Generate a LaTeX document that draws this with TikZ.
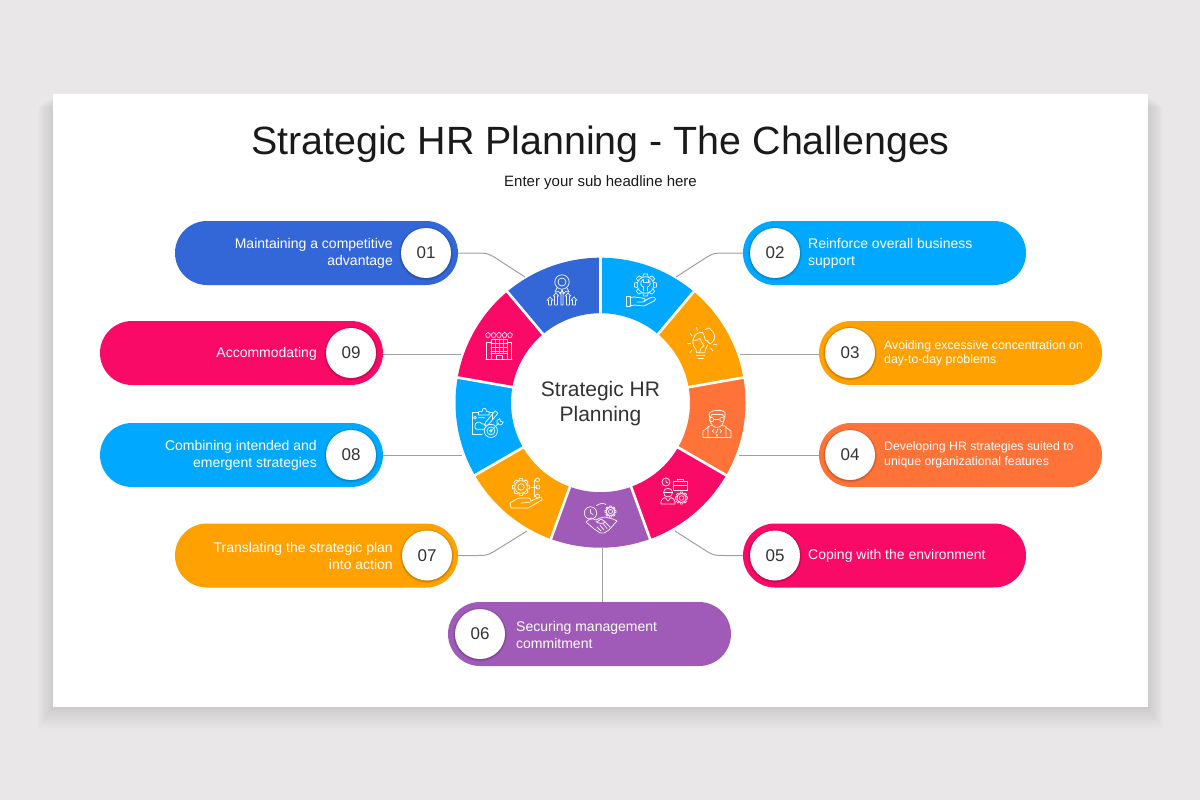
\documentclass[tikz,border=0pt]{standalone}
\usepackage{fontspec}
\setmainfont{Liberation Sans}
\usetikzlibrary{shapes.misc,calc}
\definecolor{bgc}{HTML}{E9E7E8}
\definecolor{cblue}{HTML}{3366D6}
\definecolor{csky}{HTML}{00A8FF}
\definecolor{camber}{HTML}{FFA100}
\definecolor{corange}{HTML}{FF7338}
\definecolor{cpink}{HTML}{F90A66}
\definecolor{cpurple}{HTML}{A05AB8}
\definecolor{ink}{HTML}{1A1A1A}
\definecolor{ink2}{HTML}{333333}
\definecolor{wire}{HTML}{A0A0A0}
\tikzset{
  pill/.style={rounded rectangle,minimum width=283pt,minimum height=64pt,inner sep=0pt,fill=#1,draw=none},
  numdisc/.style={circle,minimum size=50pt,inner sep=0pt,fill=white,text=ink2,font=\fontsize{17}{20}\selectfont},
  ptext/.style={text=white,inner sep=0pt,font=\fontsize{14}{17}\selectfont},
  ptextsmall/.style={text=white,inner sep=0pt,font=\fontsize{12.3}{14.6}\selectfont},
  wirel/.style={draw=wire,line width=1pt},
  icon/.style={draw=white,draw opacity=.92,line width=.75pt,line cap=round,line join=round},
  gapl/.style={white,line width=2.6pt},
}
\newcommand{\ringseg}[3]{%
  \fill[#3] (600.5,402.7) ++(#1:145) arc (#1:#2:145) -- ($(600.5,402.7)+(#2:89.5)$) arc (#2:#1:89.5) -- cycle;
}
\newcommand{\gapline}[1]{\draw[gapl] ($(600.5,402.7)+(#1:86)$) -- ($(600.5,402.7)+(#1:149)$);}
\newcommand{\discshadow}[2]{%
  \foreach \k in {1,...,4}{\fill[black,opacity=.05] (#1,#2+.6) circle ({25+\k*.5});}
}
\newcommand{\gearbare}[3]{%
  \begin{scope}[shift={(#1,#2)}]
    \draw[icon] (0,0) circle ({.75*#3});
    \foreach \a in {0,45,...,315}{\draw[icon,rotate=\a] ({-.24*#3},{-.75*#3}) -- ({-.17*#3},{-1*#3}) -- ({.17*#3},{-1*#3}) -- ({.24*#3},{-.75*#3});}
  \end{scope}}
\newcommand{\geargl}[3]{\gearbare{#1}{#2}{#3}\draw[icon] (#1,#2) circle ({.38*#3});}
\newcommand{\uparr}[4]{% x, top, bottom, halfwidth
  \draw[icon] ({#1-#4*.5},#3) -- ({#1-#4*.5},{#2+#4*1.1}) -- ({#1-#4},{#2+#4*1.1}) -- (#1,#2) -- ({#1+#4},{#2+#4*1.1}) -- ({#1+#4*.5},{#2+#4*1.1}) -- ({#1+#4*.5},#3) -- cycle;}
\begin{document}
\begin{tikzpicture}[x=1pt,y=-1pt]
\useasboundingbox (0,0) rectangle (1200,800);
\fill[bgc] (0,0) rectangle (1200,800);
% card shadow
\foreach \k in {1,...,14}{\fill[black,opacity=.006] ({53-\k*1.1},{96+\k*.8}) rectangle ({1148+\k*1.1},{707+\k*1.6});}
\node[fill=white,minimum width=1095pt,minimum height=613pt,inner sep=0pt,anchor=north west] (card) at (53,94) {};
% titles
\node[text=ink,inner sep=0pt,font=\fontsize{39.4}{46}\selectfont] (title) at (600.5,144) {Strategic HR Planning - The Challenges};
\node[text=ink,inner sep=0pt,font=\fontsize{15}{18}\selectfont] (sub) at (600.5,183) {Enter your sub headline here};
% ring
\ringseg{-90}{-50}{csky}
\ringseg{-50}{-10}{camber}
\ringseg{-10}{30}{corange}
\ringseg{30}{70}{cpink}
\ringseg{70}{110}{cpurple}
\ringseg{110}{150}{camber}
\ringseg{150}{190}{csky}
\ringseg{190}{230}{cpink}
\ringseg{230}{270}{cblue}
\gapline{-90}\gapline{-50}\gapline{-10}\gapline{30}\gapline{70}\gapline{110}\gapline{150}\gapline{190}\gapline{230}
\node[text=ink2,inner sep=0pt,align=center,font=\fontsize{21}{25}\selectfont] (hub) at (600.5,404) {Strategic HR\\Planning};
% ring anchors
\coordinate (r1) at (525,277);
\coordinate (r2) at (676,277);
\coordinate (r3) at (740,354);
\coordinate (r4) at (739,455);
\coordinate (r5) at (675,531);
\coordinate (r6) at (602,548);
\coordinate (r7) at (527,531);
\coordinate (r8) at (462,455);
\coordinate (r9) at (461,354);
% pills
\node[pill=cblue] (p1) at (316.5,253) {};
\node[pill=csky] (p2) at (884.5,253) {};
\node[pill=camber] (p3) at (960.5,353) {};
\node[pill=corange] (p4) at (960.5,455) {};
\node[pill=cpink] (p5) at (884.5,555.5) {};
\node[pill=cpurple] (p6) at (589.5,634) {};
\node[pill=camber] (p7) at (316.5,555.5) {};
\node[pill=csky] (p8) at (241.5,455) {};
\node[pill=cpink] (p9) at (241.5,353) {};
% connectors
\draw[wirel] (p1.east) -- (477,253) .. controls (484,253) and (488,253) .. (494,257) -- (r1);
\draw[wirel] (p2.west) -- (724,253) .. controls (717,253) and (713,253) .. (707,257) -- (r2);
\draw[wirel] (p3.west |- r3) -- (r3);
\draw[wirel] (p4.west) -- (r4);
\draw[wirel] (p5.west) -- (724,555.5) .. controls (717,555.5) and (713,555.5) .. (707,551.5) -- (r5);
\draw[wirel] (p6.north -| r6) -- (r6);
\draw[wirel] (p7.east) -- (477,555.5) .. controls (484,555.5) and (488,555.5) .. (494,551.5) -- (r7);
\draw[wirel] (p8.east) -- (r8);
\draw[wirel] (p9.east |- r9) -- (r9);
% discs
\discshadow{426}{253}\discshadow{775}{253}\discshadow{850}{353}\discshadow{850}{455}\discshadow{775}{555.5}\discshadow{480}{634}\discshadow{427}{555.5}\discshadow{351}{455}\discshadow{351}{353}
\node[numdisc] (n1) at (426,253) {01};
\node[numdisc] (n2) at (775,253) {02};
\node[numdisc] (n3) at (850,353) {03};
\node[numdisc] (n4) at (850,455) {04};
\node[numdisc] (n5) at (775,555.5) {05};
\node[numdisc] (n6) at (480,634) {06};
\node[numdisc] (n7) at (427,555.5) {07};
\node[numdisc] (n8) at (351,455) {08};
\node[numdisc] (n9) at (351,353) {09};
% pill labels
\node[ptext,anchor=east,align=right] (t1) at (393,253.5) {Maintaining a competitive\\advantage};
\node[ptext,anchor=west,align=left] (t2) at (808,253.5) {Reinforce overall business\\support};
\node[ptextsmall,anchor=west,align=left] (t3) at (884,353.5) {Avoiding excessive concentration on\\day-to-day problems};
\node[ptextsmall,anchor=west,align=left] (t4) at (884,455) {Developing HR strategies suited to\\unique organizational features};
\node[ptext,anchor=west] (t5) at (808,556) {Coping with the environment};
\node[ptext,anchor=west,align=left] (t6) at (516,634.5) {Securing management\\commitment};
\node[ptext,anchor=east,align=right] (t7) at (393,556) {Translating the strategic plan\\into action};
\node[ptext,anchor=east,align=right] (t8) at (317,455) {Combining intended and\\emergent strategies};
\node[ptext,anchor=east] (t9) at (317,353.5) {Accommodating};
% icon 01: medal and arrows
\begin{scope}[shift={(562,290)}]
 \draw[icon] (0,-8) circle (7.2);
 \draw[icon] (0,-8) circle (4);
 \draw[icon] (-5,-2) -- (-7,2) -- (-3.5,1.5) -- (-1.5,4) -- (0,-.5) -- (1.5,4) -- (3.5,1.5) -- (7,2) -- (5,-2);
 \uparr{-12}{7}{15}{3}\uparr{-6}{3}{15}{2.8}\uparr{0}{1}{15}{2}\uparr{6}{3}{15}{2.8}\uparr{12}{7}{15}{3}
\end{scope}
% icon 02: gear with wrench over hand
\gearbare{645.5}{285}{11}
\begin{scope}[shift={(645.5,285)}]
 \draw[icon] (-2.5,-5.5) -- (-2.5,-2.5) -- (2.5,-2.5) -- (2.5,-5.5);
 \draw[icon] (-2.5,-5.5) .. controls (-6,-3) and (-5,1) .. (-2,2) -- (-2,6);
 \draw[icon] (2.5,-5.5) .. controls (6,-3) and (5,1) .. (2,2) -- (2,6);
\end{scope}
\begin{scope}[shift={(641,301)}]
 \draw[icon] (-7,-4) -- (1,-3) .. controls (5,-3) and (6,1) .. (1,1) -- (-4,1);
 \draw[icon] (3,0) -- (10,-3.5) .. controls (14,-5) and (16,-2) .. (13,0) -- (3,5) -- (-7,4);
 \draw[icon] (-15,-4.5) rectangle (-11,5.5);
 \draw[icon] (-11,-3.5) -- (-7,-4);
 \draw[icon] (-11,4) -- (-7,4);
\end{scope}
% icon 03: bulb and puzzle
\begin{scope}[shift={(701,343)},xscale=.74,yscale=.88]
 \draw[icon] (2,-12) .. controls (-6,-13) and (-12,-7) .. (-11,0) .. controls (-10.5,5) and (-6,6) .. (-6,11) -- (5,11) .. controls (5,7) and (8,6) .. (9,2);
 \draw[icon] (-6,14) -- (5,14);
 \draw[icon] (-4,17) -- (3,17);
 \draw[icon] (-11,-3) -- (-5,-3) .. controls (-3,-6) and (0,-6) .. (0,-2) -- (4,3) -- (0,6) -- (-2,11);
 \draw[icon] (2,-12) .. controls (2,-9) and (6,-9) .. (5,-6) -- (6,-3) .. controls (10,-4) and (9,1) .. (13,1) -- (18,-4) .. controls (20,-12) and (14,-14) .. (11,-17) .. controls (8,-18) and (7,-14) .. (5,-15);
 \draw[icon] (-18,0) -- (-14,0);
 \draw[icon] (-15,-11) -- (-12,-8);
 \draw[icon] (-6,-18) -- (-5,-14);
 \draw[icon] (-15,11) -- (-12,8);
 \draw[icon] (13,6) -- (16,9);
 \draw[icon] (17,2) -- (21,2);
\end{scope}
% icon 04: developer
\begin{scope}[shift={(717,425.5)},yscale=.92]
 \draw[icon] (-8,-12) .. controls (-8,-17) and (6,-18) .. (8,-14) -- (8,-9) -- (5,-12) -- (-5,-12) -- (-7,-8) -- cycle;
 \draw[icon] (-7,-8) .. controls (-7,0) and (-3,2) .. (0,2) .. controls (3,2) and (7,0) .. (7,-9);
 \draw[icon] (-5.5,-6.5) circle (2.4);
 \draw[icon] (5,-6.5) circle (2.4);
 \draw[icon] (-3,-6.5) -- (2.6,-6.5);
 \draw[icon] (-9,13) -- (-9,1) -- (-5,0) (5,0) -- (9,1) -- (9,13);
 \draw[icon] (-9,2) -- (-14,6) -- (-14,13) -- (14,13) -- (14,6) -- (9,2);
 \draw[icon] (-3,4) -- (-4.5,6) -- (-3,8) (3,4) -- (4.5,6) -- (3,8) (1,3.5) -- (-1,8.5);
 \draw[icon] (0,10.8) circle (.8);
\end{scope}
% icon 05: person, clock, briefcase, gear
\draw[icon] (666,482) circle (4);
\draw[icon] (666,480) -- (666,482) -- (668,483);
\draw[icon] (673.5,481.5) rectangle (687,490);
\draw[icon] (677.5,481.5) -- (677.5,479) -- (683,479) -- (683,481.5);
\draw[icon] (673.5,485.5) -- (687,485.5);
\draw[icon] (663.5,492.5) .. controls (663.5,487) and (672.5,487) .. (672.5,492.5) .. controls (672.5,498.5) and (663.5,498.5) .. (663.5,492.5);
\draw[icon] (663.5,492) -- (672.5,492);
\draw[icon] (661,504) -- (661,501.5) .. controls (661,499.5) and (663,498.5) .. (665,497.5) -- (668,501) -- (671,497.5) .. controls (673,498.5) and (675,499.5) .. (675,501.5) -- (675,504) -- cycle;
\geargl{681.5}{498}{6}
% icon 06: clock, gear, handshake
\begin{scope}[shift={(601,519)}]
 \draw[icon] (-10.5,-6) circle (6.2);
 \draw[icon] (-10.5,-9.5) -- (-10.5,-6) -- (-8,-4.5);
 \draw[icon] (-4.5,-13.5) .. controls (-1,-16) and (3,-16) .. (5,-14.5);
 \draw[icon] (-5,2.5) .. controls (-2,5) and (2,5) .. (4,3);
 \draw[icon] (-15,3) -- (-10,-1) -- (-5,1) -- (-1,-1) -- (4,-2) -- (12,0) -- (16,2) -- (8,11) -- (3,14) -- (-1,14) -- (-8,9) -- cycle;
 \draw[icon] (-4,3) -- (0,0) -- (3,2) -- (9,8);
 \draw[icon] (-4,8) -- (0,12) (-1,6) -- (3,11) (2,4.5) -- (6,9.5);
\end{scope}
\geargl{610.5}{511.5}{5.5}
% icon 07: gear with nodes over hand
\geargl{521}{487}{8.5}
\begin{scope}[shift={(526,493)}]
 \draw[icon] (5,-6) -- (8,-6) -- (8,-13) -- (9.5,-13) (8,-6) -- (10,-6) (8,-6) -- (8,3) -- (9.5,3);
 \draw[icon] (11.5,-13) circle (2);
 \draw[icon] (12,-6) circle (2);
 \draw[icon] (11.5,3) circle (2);
 \draw[icon] (-16,10) -- (-15,15) -- (2,15) -- (16,7) .. controls (17,4) and (14,4) .. (12,5) -- (5,8) .. controls (6,6) and (3,5) .. (2,5) -- (-6,5) .. controls (-8,5) and (-13,8) .. (-16,10);
 \draw[icon] (-5,10) -- (5,9);
\end{scope}
% icon 08: clipboard, target, pencil
\begin{scope}[shift={(486.5,423)},scale=.88]
 \draw[icon] (-5,13) -- (-16,13) -- (-16,-12) -- (-9,-12);
 \draw[icon] (3,-12) -- (7,-12) -- (7,-5);
 \draw[icon] (-9,-9) -- (-9,-13) -- (-5,-13) .. controls (-5,-18) and (0,-18) .. (0,-13) -- (3,-13) -- (3,-9) -- cycle;
 \draw[icon] (-13,-6) circle (1.6) (-9,-6) -- (-2,-6);
 \draw[icon] (-13,5) .. controls (-15,-1) and (-7,-3) .. (-5,1) .. controls (0,0) and (0,6) .. (-3,7) -- (-11,7) .. controls (-13,7) and (-13,6) .. (-13,5);
 \draw[icon] (5,9) circle (7.5);
 \draw[icon] (5,9) circle (4.5);
 \draw[icon] (5,9) circle (1.5);
 \draw[icon] (5,9) -- (14,0);
 \draw[icon] (12,1) -- (12,-3) -- (15,-5) -- (16,-2) -- (19,-1) -- (17,2) -- (13,2);
 \draw[icon] (-1,-1) -- (10,-14) -- (13,-11) -- (2,2) -- (-2,3) -- cycle;
\end{scope}
% icon 09: hotel
\begin{scope}[shift={(499,347)}]
 \foreach \x in {-11,-5.5,0,5.5,11}{\draw[icon,line width=.65pt] ($(\x,-12)+(0,-2.6)$) -- ($(\x,-12)+(2.4,-.7)$) -- ($(\x,-12)+(1.5,2.2)$) -- ($(\x,-12)+(-1.5,2.2)$) -- ($(\x,-12)+(-2.4,-.7)$) -- cycle;}
 \draw[icon] (-13,12.5) -- (13,12.5);
 \draw[icon] (-12.5,12.5) -- (-12.5,-5) -- (-8,-5) (8,-5) -- (12.5,-5) -- (12.5,12.5);
 \draw[icon] (-8,12.5) -- (-8,-8) -- (8,-8) -- (8,12.5);
 \foreach \yy in {-4,0,4}{\draw[icon,line width=.6pt] (-8,\yy) -- (8,\yy);}
 \foreach \xx in {-4,0,4}{\draw[icon,line width=.6pt] (\xx,-8) -- (\xx,6);}
 \draw[icon,line width=.6pt] (-8,6) -- (8,6);
 \draw[icon] (-3,12.5) -- (-3,8) -- (3,8) -- (3,12.5);
\end{scope}
\end{tikzpicture}
\end{document}
